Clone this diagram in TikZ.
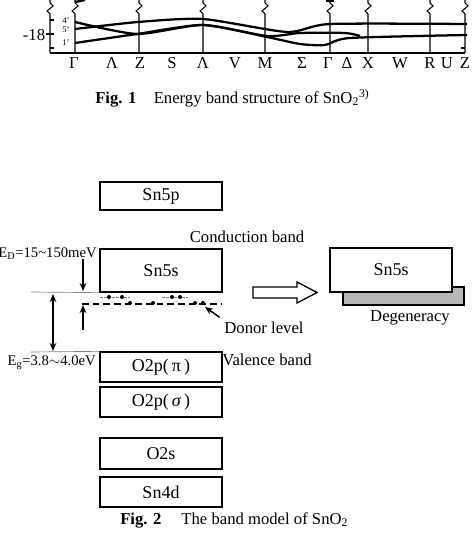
\documentclass[tikz,border=0pt]{standalone}
\usepackage{fontspec}
\setmainfont{Liberation Serif}
\usetikzlibrary{arrows.meta}

\newcommand\pxsize{0.75}
\newcommand\levelnode[6]{
		\node (#1) at ({(#2+#4)/2},{(#3+#5)/2}) [levelbox,minimum width={(#4-#2)*\pxsize pt},minimum height={(#5-#3)*\pxsize pt}] {#6};
	}
\newcommand\kline[1]{
		\draw[axisline] (#1,53) -- (#1,14) -- (#1-3,11) -- (#1+3,6) -- (#1,3) -- (#1,0);
	}

\begin{document}
\begin{tikzpicture}[x=\pxsize pt,y=-\pxsize pt,
		levelbox/.style={draw,fill=white,line width=1pt,inner sep=0pt,font=\fontsize{13.5}{15}\selectfont},
		axisline/.style={line width=0.8pt},
		bandline/.style={line width=1.7pt},
		gapline/.style={gray,line width=0.5pt},
		lbl/.style={font=\fontsize{12.5}{14}\selectfont},
		small/.style={font=\fontsize{11}{12}\selectfont,inner sep=0pt},
		tiny/.style={font=\fontsize{6.5}{7}\selectfont,inner sep=0pt},
		arr/.style={-{Stealth[length=6pt,width=5pt]},line width=1.1pt}]
		\useasboundingbox (0,0) rectangle (474,541);

		% draw band structure axes
		\foreach \kx in {50,75,139,203,265,330,368,430,465}
		{
			\kline{\kx}
		}
		\draw[axisline] (50,53) -- (465,53);
		\draw[axisline] (50,20) -- (54,20);
		\draw[axisline] (46,34) -- (54,34);
		\draw[axisline] (50,48) -- (54,48);
		\draw[axisline] (461,48) -- (465,48);
		\node (e18) at (34,35) [lbl] {-18};
		\node (b4) at (66,21) [tiny] {4’};
		\node (b5) at (66,29.5) [tiny] {5’};
		\node (b1) at (66,43) [tiny] {1’};

		% draw bands
		\draw[bandline] plot[smooth,tension=0.4] coordinates {(75,22) (137,34) (203,25) (267,37) (300,44) (325,45) (350,38) (467,35)};
		\draw[bandline] plot[smooth,tension=0.4] coordinates {(75,29) (138,22) (203,19) (287,32) (330,24) (467,24)};
		\draw[bandline] plot[smooth,tension=0.4] coordinates {(75,43) (137,34) (203,25) (267,36) (300,33) (345,33) (360,36)};
		\draw[bandline] (75,2) -- (85,0);
		\draw[bandline] (326,1) -- (334,1);

		% draw symmetry points
		\foreach \kname/\kx in {Γ/74,Λ/112,Z/140,S/172,Λ/203,V/235,M/265,Σ/302,Γ/328,Δ/347,X/368,W/400,R/430,U/447,Z/465}
		{
			\node (k\kx) at (\kx,63) [lbl] {\kname};
		}

		% draw caption 1
		\node (cap1) at (95,98) [lbl,anchor=west,inner sep=0pt] {\textbf{Fig. 1}\hspace{13pt}Energy band structure of SnO\textsubscript{2}\textsuperscript{3)}};

		% draw level boxes
		\levelnode{sn5p}{100}{182}{222}{210}{Sn5p}
		\levelnode{sn5s}{100}{249}{222}{292}{Sn5s}
		\levelnode{o2ppi}{100}{352}{222}{382}{O2p(\,π\,)}
		\levelnode{o2psigma}{100}{387}{222}{417}{O2p(\,\textit{σ}\,)}
		\levelnode{o2s}{100}{438}{222}{469}{O2s}
		\levelnode{sn4d}{100}{477}{222}{507}{Sn4d}

		% draw degenerate boxes
		\draw[fill=gray!55,line width=1pt] (343,287) rectangle (464,305);
		\levelnode{sn5sdeg}{330}{248}{452}{292}{Sn5s}

		% draw gap lines
		\coordinate (gaptop) at (31,292);
		\coordinate (gapbot) at (31,352);
		\draw[gapline] (gaptop) -- (sn5s.south west);
		\draw[gapline] (gapbot) -- (o2ppi.north west);

		% draw donor level
		\draw[line width=1.3pt,dash pattern=on 5pt off 3pt] (82,304) -- (222,304);
		\draw[gray,line width=0.5pt,dash pattern=on 2pt off 1pt] (100,297) -- (130,297);
		\draw[gray,line width=0.5pt,dash pattern=on 2pt off 1pt] (162,297) -- (188,297);
		\foreach \ex in {109,122,172,180}
		{
			\fill (\ex,297) circle (1.5pt);
		}
		\foreach \ex in {130,153,195,203}
		{
			\fill (\ex,303) circle (1.5pt);
		}

		% draw energy arrows
		\coordinate (edtop) at (83,259);
		\coordinate (edbot) at (83,291);
		\coordinate (dntop) at (83,305);
		\coordinate (dnbot) at (83,330);
		\coordinate (egtop) at (53,294);
		\coordinate (egbot) at (53,351);
		\draw[arr] (edtop) -- (edbot);
		\draw[arr] (dnbot) -- (dntop);
		\draw[{Stealth[length=6pt,width=5pt]}-{Stealth[length=6pt,width=5pt]},line width=1.1pt] (egtop) -- (egbot);

		% draw hollow arrow
		\draw[line width=1pt] (253,287) -- (297,287) -- (297,282) -- (317,292.5) -- (297,303) -- (297,298) -- (253,298) -- cycle;

		% draw text nodes
		\node (ed) at (97,254) [small,anchor=east] {E\textsubscript{D}=15\textasciitilde150meV};
		\node (eg) at (96,363) [small,anchor=east] {E\textsubscript{g}=3.8$\sim$4.0eV};
		\node (cond) at (247,237) [lbl] {Conduction band};
		\node (donor) at (264,328) [lbl] {Donor level};
		\node (val) at (267,360) [lbl] {Valence band};
		\node (degen) at (410,318) [lbl] {Degeneracy};
		\coordinate (donorpt) at (205,307);
		\draw[arr] (donor.north west) -- (donorpt);

		% draw caption 2
		\node (cap2) at (120,520) [lbl,anchor=west,inner sep=0pt] {\textbf{Fig. 2}\hspace{15pt}The band model of SnO\textsubscript{2}};
	\end{tikzpicture}
\end{document}
